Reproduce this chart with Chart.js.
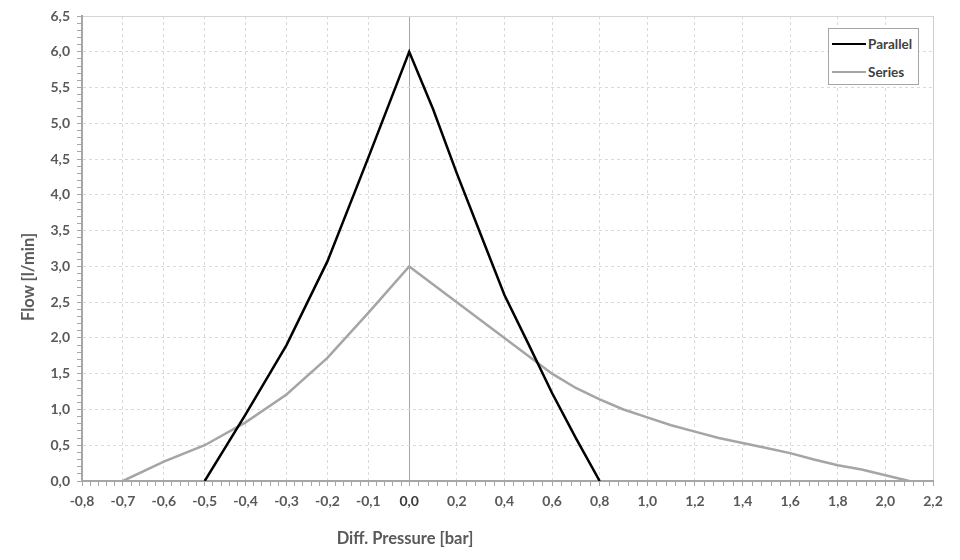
<!DOCTYPE html>
<html>
<head>
<meta charset="utf-8">
<title>Flow vs Diff. Pressure</title>
<script src="https://cdn.jsdelivr.net/npm/chart.js@4.4.1/dist/chart.umd.min.js"></script>
<style>
  body { margin: 0; background: #fff; }
  #wrap { position: relative; width: 960px; height: 560px; font-family: Lato, sans-serif; font-weight: bold; color: #595959; }
  #wrap canvas { position: absolute; left: 0; top: 0; }
  .axis-title { position: absolute; font-size: 16.5px; white-space: nowrap; }
  #ytitle { left: 28px; top: 277px; transform: translate(-50%, -50%) rotate(-90deg); }
  #xtitle { left: 405px; top: 538px; transform: translate(-50%, -50%); }
  #legend { position: absolute; left: 828px; top: 28px; width: 91px; height: 57px; border: 1px solid #a6a6a6; background: #fff; box-sizing: border-box; }
  .item { position: absolute; left: 3px; height: 16px; display: flex; align-items: center; font-size: 13.5px; color: #404040; }
  .swatch { width: 34px; height: 0; margin-right: 2px; }
</style>
</head>
<body>
<div id="wrap">
  <canvas id="chart" width="960" height="560"></canvas>
  <div class="axis-title" id="ytitle">Flow [l/min]</div>
  <div class="axis-title" id="xtitle">Diff. Pressure [bar]</div>
  <div id="legend"></div>
</div>
<script>
// values
const parallelX    = [-0.5, -0.4, -0.3, -0.2, -0.1, 0.0, 0.1, 0.2, 0.3, 0.4, 0.5, 0.6, 0.7, 0.8];
const parallelFlow = [0, 0.93, 1.9, 3.07, 4.52, 6.0, 5.2, 4.3, 3.45, 2.6, 1.92, 1.23, 0.6, 0];

const seriesX    = [-0.7, -0.6, -0.5, -0.4, -0.3, -0.2, -0.1, 0.0, 0.2, 0.4, 0.6, 0.7, 0.8, 0.9, 1.0, 1.1, 1.2, 1.3, 1.4, 1.5, 1.6, 1.7, 1.8, 1.9, 2.0, 2.1];
const seriesFlow = [0, 0.27, 0.5, 0.82, 1.21, 1.72, 2.35, 3.0, 2.5, 2.0, 1.5, 1.3, 1.14, 1.0, 0.89, 0.78, 0.69, 0.6, 0.53, 0.46, 0.39, 0.3, 0.22, 0.16, 0.08, 0];

const xMajorTicks = [-0.8, -0.7, -0.6, -0.5, -0.4, -0.3, -0.2, -0.1, 0.0, 0.2, 0.4, 0.6, 0.8, 1.0, 1.2, 1.4, 1.6, 1.8, 2.0, 2.2];
const yMajorTicks = [0, 0.5, 1.0, 1.5, 2.0, 2.5, 3.0, 3.5, 4.0, 4.5, 5.0, 5.5, 6.0, 6.5];

// the x axis changes its scale at 0 bar (0.1 steps left, 0.2 steps right)
const SPLIT_AT = 0;
const LEFT_SHARE = 0.3845;

class SplitLinearScale extends Chart.LinearScale {
  splitDecimal(v) {
    if (v <= SPLIT_AT) return LEFT_SHARE * (v - this.min) / (SPLIT_AT - this.min);
    return LEFT_SHARE + (1 - LEFT_SHARE) * (v - SPLIT_AT) / (this.max - SPLIT_AT);
  }
  getPixelForValue(value) {
    if (value === null || value === undefined || isNaN(value)) return NaN;
    return this.getPixelForDecimal(this.splitDecimal(value));
  }
  getValueForPixel(pixel) {
    const d = this.getDecimalForPixel(pixel);
    if (d <= LEFT_SHARE) return this.min + d / LEFT_SHARE * (SPLIT_AT - this.min);
    return SPLIT_AT + (d - LEFT_SHARE) / (1 - LEFT_SHARE) * (this.max - SPLIT_AT);
  }
}
SplitLinearScale.id = 'splitLinear';
SplitLinearScale.defaults = Chart.LinearScale.defaults;
Chart.register(SplitLinearScale);

function withMinors(majors, parts) {
  const ticks = [];
  for (let i = 0; i < majors.length; i++) {
    ticks.push({ value: majors[i], minor: false });
    if (i < majors.length - 1) {
      const step = (majors[i + 1] - majors[i]) / parts;
      for (let k = 1; k < parts; k++) ticks.push({ value: majors[i] + step * k, minor: true });
    }
  }
  return ticks;
}

const fmt = v => (Math.round(v * 10) / 10).toFixed(1).replace('.', ',').replace('-0,0', '0,0');
const isZero = v => Math.abs(v) < 1e-9;
const tickFont = { family: 'Lato', size: 14, weight: 'bold' };

const datasets = [
  { label: 'Parallel', data: parallelX.map((x, i) => ({ x, y: parallelFlow[i] })), borderColor: '#000000', borderWidth: 2.5 },
  { label: 'Series', data: seriesX.map((x, i) => ({ x, y: seriesFlow[i] })), borderColor: '#a5a5a5', borderWidth: 2.5 }
];
datasets.forEach(d => { d.pointRadius = 0; d.tension = 0; d.fill = false; });

const chart = new Chart(document.getElementById('chart'), {
  type: 'line',
  data: { datasets },
  options: {
    responsive: false,
    animation: false,
    events: [],
    layout: { padding: { top: 16, right: 27, left: 0, bottom: 0 } },
    plugins: { legend: { display: false }, tooltip: { enabled: false } },
    scales: {
      x: {
        type: 'splitLinear',
        min: -0.8,
        max: 2.2,
        afterBuildTicks: s => { s.ticks = withMinors(xMajorTicks, 5); },
        afterFit: s => { s.height = 79; },
        ticks: {
          autoSkip: false,
          maxRotation: 0,
          minRotation: 0,
          padding: 7,
          font: tickFont,
          color: c => (c.tick && isZero(c.tick.value)) ? '#3a3a3a' : '#595959',
          callback: (v, i, ticks) => ticks[i].minor ? '' : fmt(v)
        },
        grid: {
          tickLength: 5,
          tickColor: '#a6a6a6',
          lineWidth: 1,
          color: c => {
            if (!c.tick || c.tick.minor) return 'rgba(0,0,0,0)';
            const v = c.tick.value;
            if (isZero(v)) return '#a6a6a6';
            if (Math.abs(v + 0.8) < 1e-9) return 'rgba(0,0,0,0)';
            if (Math.abs(v - 2.2) < 1e-9) return '#cfcfcf';
            return '#dadada';
          }
        },
        border: {
          color: '#a6a6a6',
          width: 2,
          dash: c => (c.tick && !isZero(c.tick.value) && Math.abs(c.tick.value - 2.2) > 1e-9) ? [3, 3] : []
        }
      },
      y: {
        type: 'linear',
        min: 0,
        max: 6.5,
        afterBuildTicks: s => { s.ticks = withMinors(yMajorTicks, 5); },
        afterFit: s => { s.width = 82; },
        ticks: {
          autoSkip: false,
          padding: 7,
          font: tickFont,
          color: '#595959',
          callback: (v, i, ticks) => ticks[i].minor ? '' : fmt(v)
        },
        grid: {
          tickLength: 5,
          tickColor: '#a6a6a6',
          lineWidth: 1,
          color: c => {
            if (!c.tick || c.tick.minor || isZero(c.tick.value)) return 'rgba(0,0,0,0)';
            if (Math.abs(c.tick.value - 6.5) < 1e-9) return '#d4d4d4';
            return '#dadada';
          }
        },
        border: {
          color: '#a6a6a6',
          width: 2,
          dash: c => (c.tick && Math.abs(c.tick.value - 6.5) > 1e-9) ? [3, 3] : []
        }
      }
    }
  }
});

// legend box inside the plot, built from the datasets
const legend = document.getElementById('legend');
chart.data.datasets.forEach((d, i) => {
  const item = document.createElement('div');
  item.className = 'item';
  item.style.top = (7 + i * 28) + 'px';
  const sw = document.createElement('span');
  sw.className = 'swatch';
  sw.style.borderTop = d.borderWidth + 'px solid ' + d.borderColor;
  const txt = document.createElement('span');
  txt.textContent = d.label;
  item.appendChild(sw);
  item.appendChild(txt);
  legend.appendChild(item);
});
</script>
</body>
</html>
